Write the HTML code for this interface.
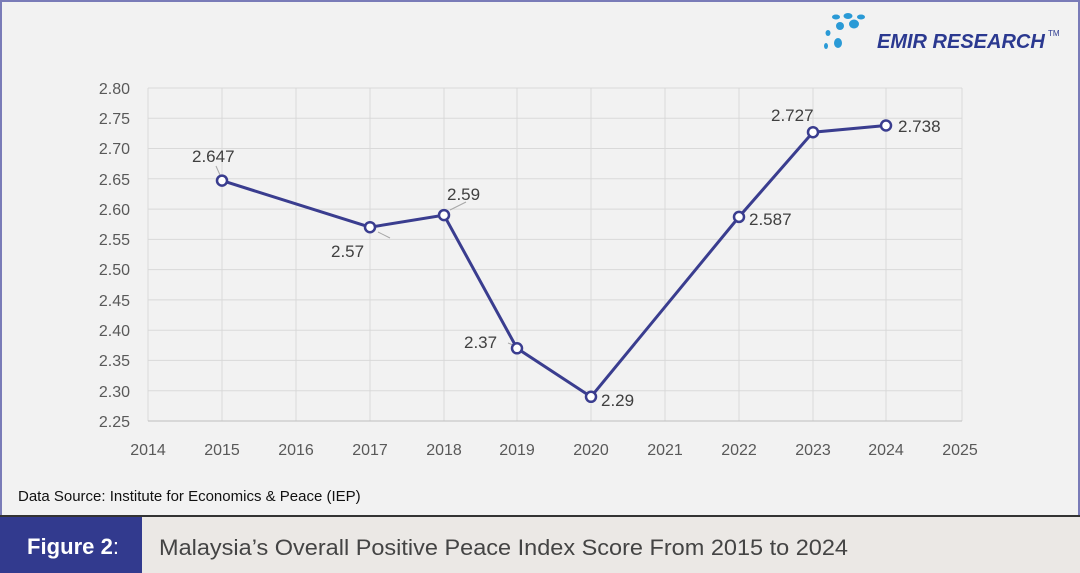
<!DOCTYPE html>
<html><head><style>
html,body{margin:0;padding:0;}
body{width:1080px;height:573px;overflow:hidden;background:#f2f2f2;font-family:"Liberation Sans",sans-serif;position:relative;}
.frame{position:absolute;left:0;top:0;width:1076px;height:569px;border:2px solid #7a7cb8;}
</style></head><body>
<div class="frame"></div>
<svg width="1080" height="573" style="position:absolute;left:0;top:0">
<g stroke="#d9d9d9" stroke-width="1">
<line x1="148" y1="88" x2="962" y2="88"/><line x1="148" y1="118.3" x2="962" y2="118.3"/><line x1="148" y1="148.5" x2="962" y2="148.5"/><line x1="148" y1="178.8" x2="962" y2="178.8"/><line x1="148" y1="209.1" x2="962" y2="209.1"/><line x1="148" y1="239.4" x2="962" y2="239.4"/><line x1="148" y1="269.6" x2="962" y2="269.6"/><line x1="148" y1="299.9" x2="962" y2="299.9"/><line x1="148" y1="330.2" x2="962" y2="330.2"/><line x1="148" y1="360.4" x2="962" y2="360.4"/><line x1="148" y1="390.7" x2="962" y2="390.7"/>
<line x1="148" y1="88" x2="148" y2="421"/><line x1="222" y1="88" x2="222" y2="421"/><line x1="296" y1="88" x2="296" y2="421"/><line x1="370" y1="88" x2="370" y2="421"/><line x1="444" y1="88" x2="444" y2="421"/><line x1="517" y1="88" x2="517" y2="421"/><line x1="591" y1="88" x2="591" y2="421"/><line x1="665" y1="88" x2="665" y2="421"/><line x1="739" y1="88" x2="739" y2="421"/><line x1="813" y1="88" x2="813" y2="421"/><line x1="886" y1="88" x2="886" y2="421"/><line x1="962" y1="88" x2="962" y2="421"/>
</g>
<line x1="148" y1="421" x2="962" y2="421" stroke="#bfbfbf"/>
<g font-size="16" fill="#595959" text-anchor="end">
<text x="130" y="94">2.80</text><text x="130" y="124">2.75</text><text x="130" y="154">2.70</text><text x="130" y="185">2.65</text><text x="130" y="215">2.60</text><text x="130" y="245">2.55</text><text x="130" y="275">2.50</text><text x="130" y="306">2.45</text><text x="130" y="336">2.40</text><text x="130" y="366">2.35</text><text x="130" y="397">2.30</text><text x="130" y="427">2.25</text>
</g>
<g font-size="16" fill="#595959" text-anchor="middle">
<text x="148" y="455">2014</text><text x="222" y="455">2015</text><text x="296" y="455">2016</text><text x="370" y="455">2017</text><text x="444" y="455">2018</text><text x="517" y="455">2019</text><text x="591" y="455">2020</text><text x="665" y="455">2021</text><text x="739" y="455">2022</text><text x="813" y="455">2023</text><text x="886" y="455">2024</text><text x="960" y="455">2025</text>
</g>
<g stroke="#a6a6a6" stroke-width="1">
<line x1="216" y1="166" x2="220" y2="175"/><line x1="378" y1="232" x2="390" y2="238"/><line x1="450" y1="210" x2="466" y2="202"/><line x1="508" y1="343" x2="513" y2="345"/>
</g>
<polyline fill="none" stroke="#3a3d8f" stroke-width="3" points="222,180.6 370,227.2 444,215.1 517,348.3 591,396.8 739,216.9 813,132.2 886,125.5"/>
<g fill="#fff" stroke="#3a3d8f" stroke-width="2.5">
<circle cx="222" cy="180.6" r="5"/><circle cx="370" cy="227.2" r="5"/><circle cx="444" cy="215.1" r="5"/><circle cx="517" cy="348.3" r="5"/><circle cx="591" cy="396.8" r="5"/><circle cx="739" cy="216.9" r="5"/><circle cx="813" cy="132.2" r="5"/><circle cx="886" cy="125.5" r="5"/>
</g>
<g font-size="17" fill="#404040">
<text x="192" y="162">2.647</text><text x="331" y="257">2.57</text><text x="447" y="200">2.59</text><text x="464" y="348">2.37</text><text x="601" y="406">2.29</text><text x="749" y="225">2.587</text><text x="771" y="121">2.727</text><text x="898" y="132">2.738</text>
</g>
<g fill="#2a9ad6">
<ellipse cx="836" cy="17" rx="4" ry="2.5"/><ellipse cx="848" cy="16" rx="4.5" ry="3"/><ellipse cx="861" cy="17" rx="4" ry="2.5"/>
<ellipse cx="840" cy="26" rx="4" ry="4"/><ellipse cx="854" cy="24" rx="5" ry="4.5"/>
<ellipse cx="828" cy="33" rx="2.5" ry="3"/><ellipse cx="838" cy="43" rx="4" ry="5"/><ellipse cx="826" cy="46" rx="2" ry="3"/>
</g>
<text x="877" y="48" font-size="20" font-weight="bold" font-style="italic" fill="#2b3990">EMIR RESEARCH</text>
<text x="1048" y="36" font-size="8" fill="#2b3990">TM</text>
<text x="18" y="501" font-size="15" fill="#111">Data Source: Institute for Economics &amp; Peace (IEP)</text>
<rect x="0" y="515" width="1080" height="58" fill="#ebe8e5"/>
<line x1="0" y1="516" x2="1080" y2="516" stroke="#333" stroke-width="2"/>
<rect x="0" y="517" width="142" height="56" fill="#323a8e"/>
<text x="27" y="554" font-size="22" font-weight="bold" fill="#fff" textLength="92">Figure 2<tspan font-weight="normal">:</tspan></text>
<text x="159" y="555" font-size="22" fill="#444" textLength="689" lengthAdjust="spacingAndGlyphs">Malaysia’s Overall Positive Peace Index Score From 2015 to 2024</text>
</svg>
</body></html>
